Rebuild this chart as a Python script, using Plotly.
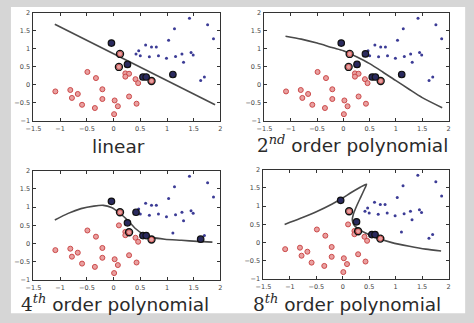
import plotly.graph_objects as go

# Class 1 (red circles)
red_x = [-1.09, -0.81, -0.78, -0.67, -0.59, -0.49, -0.33, -0.35, -0.21, -0.21,
         0.02, 0.08, 0.01, 0.22, 0.29, 0.22, 0.29, 0.41, 0.46, 0.43, 0.12, 0.10, 0.71]
red_y = [-0.18, -0.14, -0.36, -0.25, -0.55, 0.36, 0.19, -0.64, -0.12, -0.39,
         -0.43, -0.59, -0.81, 0.32, 0.31, 0.23, -0.32, 0.16, 0.05, -0.52, 0.86, 0.50, 0.11]

# Class 2 (blue points)
blue_x = [1.42, 1.76, 1.87, 1.14, 1.03, 0.60, 0.71, 0.80, 0.47, 0.42, 0.50, 0.67, 0.84,
          0.99, 1.16, 1.28, 1.45, 1.49, 1.31, 1.63, 1.70, 1.11, -0.04, 0.26, 0.55, 0.61]
blue_y = [1.85, 1.67, 1.28, 1.56, 1.24, 1.11, 1.05, 1.05, 0.95, 0.86, 0.81, 0.78, 0.81,
          0.74, 0.79, 0.86, 0.90, 0.83, 0.63, 0.12, 0.22, 0.29, 1.16, 0.57, 0.22, 0.22]

# Support vectors per model (indices into the class lists)
sv_red = [[20, 21, 22], [20, 21, 22], [20, 14, 22], [20, 14, 22]]
sv_blue = [[22, 23, 24, 25, 21], [22, 9, 23, 24, 25, 21],
           [22, 9, 23, 24, 25, 19], [22, 23, 24, 25]]

# Decision boundaries
bnd_x = [
    [-1.10, 1.90],
    [-1.10, -0.80, -0.50, -0.20, 0.00, 0.25, 0.50, 0.75, 1.00, 1.25, 1.50, 1.88],
    [-1.10, -0.85, -0.61, -0.37, -0.19, -0.04, 0.12, 0.27, 0.42, 0.54, 0.72, 0.96,
     1.27, 1.57, 1.85],
    [-1.10, -0.81, -0.51, -0.20, -0.02, 0.16, 0.33, 0.42, 0.45, 0.42, 0.34, 0.26, 0.20,
     0.18, 0.21, 0.29, 0.42, 0.62, 0.93, 1.26, 1.57, 1.86],
]
bnd_y = [
    [1.68, -0.55],
    [1.35, 1.27, 1.16, 1.03, 0.95, 0.78, 0.59, 0.36, 0.12, -0.12, -0.35, -0.63],
    [0.65, 0.83, 0.96, 1.03, 1.05, 0.99, 0.83, 0.63, 0.40, 0.27, 0.17, 0.12,
     0.09, 0.06, 0.04],
    [0.50, 0.66, 0.84, 1.06, 1.21, 1.375, 1.52, 1.59, 1.60, 1.50, 1.25, 1.00, 0.78,
     0.62, 0.49, 0.38, 0.27, 0.14, 0.00, -0.10, -0.18, -0.23],
]

captions = [
    "linear",
    "<span style='font-family:DejaVu Serif'>2<sup><i>nd</i></sup></span> order polynomial",
    "<span style='font-family:DejaVu Serif'>4<sup><i>th</i></sup></span> order polynomial",
    "<span style='font-family:DejaVu Serif'>8<sup><i>th</i></sup></span> order polynomial",
]

x_ticks = [-1.5, -1, -0.5, 0, 0.5, 1, 1.5, 2]
y_ticks = [-1, -0.5, 0, 0.5, 1, 1.5, 2]

W, H = 474, 323
# plot boxes in pixels: (left, right, top, bottom)
boxes = [(26, 217, 9, 120), (262, 450, 9, 120), (26, 217, 171, 283), (261, 450, 170, 282)]
cap_pos = [(113, 146), (352, 144), (109, 307), (346, 307)]

fig = go.Figure()
layout = dict(
    width=W, height=H, margin=dict(l=0, r=0, t=0, b=0),
    paper_bgcolor="#d6d6d6", plot_bgcolor="white", showlegend=False,
    shapes=[dict(type="rect", xref="paper", yref="paper", layer="below",
                 x0=3 / W, x1=467 / W, y0=1 - 317 / H, y1=1 - 3 / H,
                 fillcolor="white", line=dict(width=0))],
    annotations=[],
)

for i in range(4):
    sfx = "" if i == 0 else str(i + 1)
    xa, ya = "x" + sfx, "y" + sfx
    l, r, t, b = boxes[i]
    axis_common = dict(showgrid=False, zeroline=False, ticks="inside", ticklen=3,
                       tickcolor="#333", tickwidth=1, showline=True, linecolor="#333",
                       linewidth=1, mirror="allticks",
                       tickfont=dict(size=6.5, color="#444", family="DejaVu Sans"))
    layout["xaxis" + sfx] = dict(axis_common, domain=[l / W, r / W], range=[-1.5, 2],
                                 tickvals=x_ticks, anchor=ya, ticklabelstandoff=1)
    layout["yaxis" + sfx] = dict(axis_common, domain=[1 - b / H, 1 - t / H], range=[-1, 2],
                                 tickvals=y_ticks, anchor=xa, ticklabelstandoff=1)

    fig.add_trace(go.Scatter(x=bnd_x[i], y=bnd_y[i], mode="lines", xaxis=xa, yaxis=ya,
                             line=dict(color="#4a4a4a", width=1.6, shape="spline", smoothing=0.7)))
    fig.add_trace(go.Scatter(x=red_x, y=red_y, mode="markers", xaxis=xa, yaxis=ya,
                             marker=dict(symbol="circle", size=5, color="#e9a0a0",
                                         line=dict(color="#cc4a4a", width=1))))
    fig.add_trace(go.Scatter(x=blue_x, y=blue_y, mode="markers", xaxis=xa, yaxis=ya,
                             marker=dict(symbol="circle", size=3, color="#3c3c96",
                                         line=dict(width=0))))
    fig.add_trace(go.Scatter(x=[red_x[k] for k in sv_red[i]], y=[red_y[k] for k in sv_red[i]],
                             mode="markers", xaxis=xa, yaxis=ya,
                             marker=dict(symbol="circle-open", size=7, color="#111",
                                         line=dict(color="#111", width=1.4))))
    fig.add_trace(go.Scatter(x=[blue_x[k] for k in sv_blue[i]], y=[blue_y[k] for k in sv_blue[i]],
                             mode="markers", xaxis=xa, yaxis=ya,
                             marker=dict(symbol="circle", size=6.5, color="#2a2a5e",
                                         line=dict(color="#111", width=1.2))))
    cx, cy = cap_pos[i]
    layout["annotations"].append(dict(
        text=captions[i], xref="paper", yref="paper", x=cx / W, y=1 - cy / H,
        xanchor="center", yanchor="middle", showarrow=False,
        font=dict(family="DejaVu Sans", size=18.5, color="#2a2a2a")))

fig.update_layout(**layout)
fig.write_html("out.html")
